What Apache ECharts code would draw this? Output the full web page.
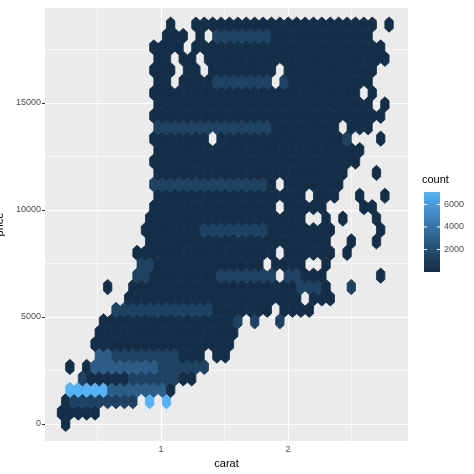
<!DOCTYPE html>
<html><head><meta charset="utf-8">
<script src="https://cdn.jsdelivr.net/npm/echarts@6/dist/echarts.min.js"></script>
<style>html,body{margin:0;padding:0;background:#fff}#c{width:474px;height:474px}</style>
</head><body><div id="c"></div>
<script>
// hex grid rows, bottom (row 0) to top; spans of column indices with count level letter
const hexRows = [
"0","0-4","0,1-8b,10g,12g","1-5g,6-12c,13","2b,3-7,8-13b,14-15","1,3,4-11c,12-17b",
"4-5c,6-13b,14-16,18-19","4-20","4-20","5-20,21b,23b,26b","6-17b,18-24,26-29","8-28,30-32",
"5,8-27,28-30b,31,34b","9-10b,11-18,19-25b,27-28b,29-31,38","9-10b,11-23,25-28,31","9-25,27-32,34",
"10-31,34,37","10-16,17-24b,25-32,38","10-28,31,33,37","11-25,27-31,36-37","11-28,30-32,35,38",
"11-24b,25,27-33","11-33,37","11-35","11-35","11-17,19-33,34b,38","11-24b,25-32,34-36","11-38",
"11-36,38","11-35,37","11-12,14-17,18-24b,26b,27-36","11-13,15-16,18-25,27-37","11-12,14-15,17-38",
"11-14,16-38","12-14,16,18-24b,25-36","13,16-37,39"
];
const levelCounts = {a:150, b:1300, c:2800, g:7100};
const xTicks = [1, 2];
const yTicks = [0, 5000, 10000, 15000];
const xMinor = [0.5, 1.5, 2.5];
const yMinor = [2500, 7500, 12500, 17500];
const legendTicks = [2000, 4000, 6000];
const X0 = 0.2496, DX = 0.06614, DY = 533.3, CMIN = 1, CMAX = 7100;

const data = [];
hexRows.forEach((row, r) => {
  row.split(',').forEach(tok => {
    const m = tok.trim().match(/^(\d+)(?:-(\d+))?([a-z])?$/);
    const a = +m[1], b = m[2] ? +m[2] : a, lv = m[3] || 'a';
    for (let i = a; i <= b; i++) {
      data.push([X0 + DX * (i - (r % 2 ? 0.5 : 0)), r * DY, levelCounts[lv]]);
    }
  });
});

const chart = echarts.init(document.getElementById('c'));
const G = {left:45, right:66, top:8, bottom:33};
const lab = {color:'#4D4D4D', fontSize:9, fontFamily:'Liberation Sans, Arial', formatter: v => String(v)};
const gl = (v, key, w) => ({[key]: v, lineStyle:{color:'#fff', width:w, type:'solid'}});
const barTop = 192, barH = 80;
const ly = v => barTop + barH - (v - CMIN) / (CMAX - CMIN) * barH;
const graphics = [
  {type:'text', left:422, top:174, style:{text:'count', fontSize:11, fill:'#000', fontFamily:'Liberation Sans, Arial'}},
  {type:'rect', shape:{x:424, y:barTop, width:16, height:barH},
   style:{fill:new echarts.graphic.LinearGradient(0,0,0,1,[{offset:0,color:'#56B1F7'},{offset:0.5,color:'#336A98'},{offset:1,color:'#132B43'}])}}
];
legendTicks.forEach(v => {
  const y = ly(v);
  graphics.push({type:'line', shape:{x1:424,y1:y,x2:427,y2:y}, style:{stroke:'#fff', lineWidth:1}});
  graphics.push({type:'line', shape:{x1:437,y1:y,x2:440,y2:y}, style:{stroke:'#fff', lineWidth:1}});
  graphics.push({type:'text', x:444, y:y, style:{text:String(v), fontSize:9, fill:'#4D4D4D', verticalAlign:'middle', fontFamily:'Liberation Sans, Arial'}});
});

chart.setOption({
  animation:false,
  grid:{...G, show:true, backgroundColor:'#EBEBEB', borderWidth:0, containLabel:false, outerBoundsMode:'none'},
  xAxis:{type:'value', min:0.087, max:2.945, name:'carat', nameLocation:'middle', nameGap:17,
    nameTextStyle:{color:'#000', fontSize:11, fontFamily:'Liberation Sans, Arial'},
    axisLine:{show:false}, splitLine:{show:false},
    axisTick:{show:true, customValues:xTicks, length:3, lineStyle:{color:'#333'}},
    axisLabel:{...lab, customValues:xTicks, margin:4}},
  yAxis:{type:'value', min:-794, max:19440, name:'price', nameLocation:'middle', nameGap:34, nameRotate:90,
    nameTextStyle:{color:'#000', fontSize:11, fontFamily:'Liberation Sans, Arial'},
    axisLine:{show:false}, splitLine:{show:false},
    axisTick:{show:true, customValues:yTicks, length:3, lineStyle:{color:'#333'}},
    axisLabel:{...lab, customValues:yTicks, margin:4}},
  visualMap:{show:false, type:'continuous', min:CMIN, max:CMAX, dimension:2, seriesIndex:1,
    inRange:{color:['#132B43','#336A98','#56B1F7']}},
  graphic:graphics,
  series:[
    {type:'line', data:[], silent:true, z:1,
     markLine:{silent:true, symbol:'none', label:{show:false}, animation:false, z:1,
       data:[...xMinor.map(v=>gl(v,'xAxis',0.6)), ...yMinor.map(v=>gl(v,'yAxis',0.6)),
             ...xTicks.map(v=>gl(v,'xAxis',1.2)), ...yTicks.map(v=>gl(v,'yAxis',1.2))]}},
    {type:'custom', z:10, data:data, encode:{x:0, y:1},
     renderItem:(params, api) => {
       const c = api.coord([api.value(0), api.value(1)]);
       const p1 = api.coord([0, 0]), p2 = api.coord([DX, DY]);
       const w = (p2[0] - p1[0]) / 2, s = p1[1] - p2[1], h2 = s * 2 / 3, h4 = s / 3;
       return {type:'polygon', shape:{points:[[c[0],c[1]-h2],[c[0]+w,c[1]-h4],[c[0]+w,c[1]+h4],[c[0],c[1]+h2],[c[0]-w,c[1]+h4],[c[0]-w,c[1]-h4]]},
         style:{fill:api.visual('color'), stroke:api.visual('color'), lineWidth:0.8}};
     }}
  ]
});
</script></body></html>
